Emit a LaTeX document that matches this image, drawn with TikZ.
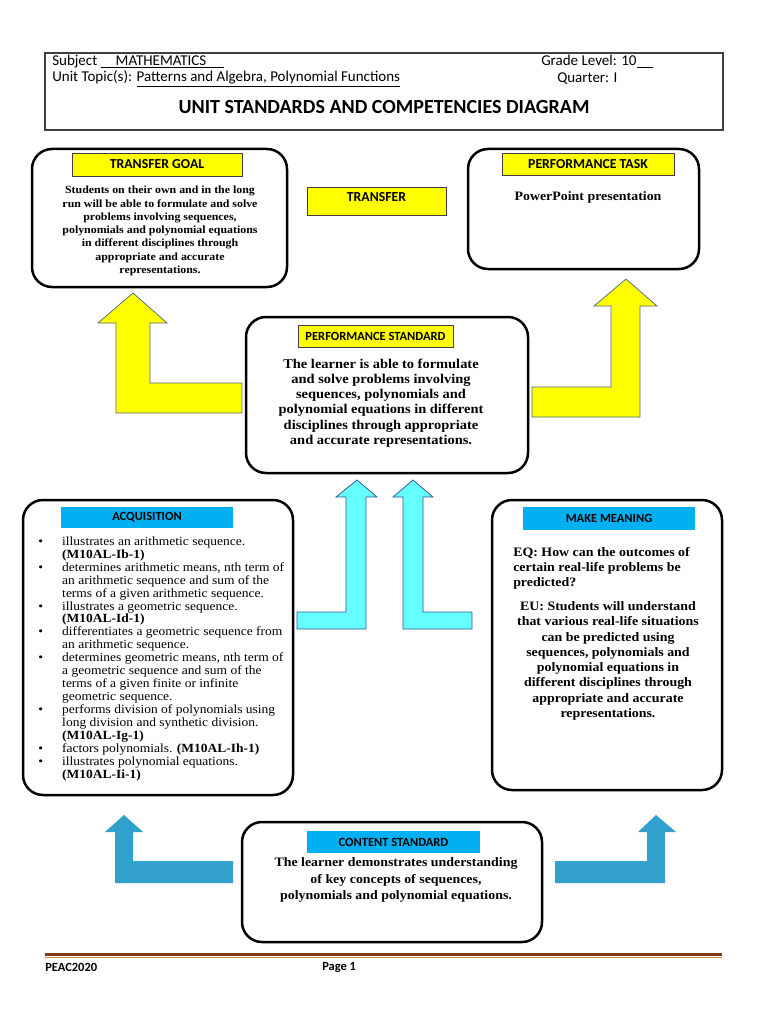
\documentclass[tikz,border=0pt]{standalone}
\usepackage{fontspec}
\setmainfont[FakeStretch=1.08]{Liberation Serif}
\newfontfamily\calibri{Carlito}
\definecolor{goalyellow}{RGB}{255,255,0}
\definecolor{goalline}{RGB}{85,105,135}
\definecolor{liftcyan}{RGB}{102,255,255}
\definecolor{liftline}{RGB}{47,85,151}
\definecolor{tagblue}{RGB}{0,176,240}
\definecolor{baseblue}{RGB}{49,160,204}
\definecolor{footbrown}{RGB}{120,58,24}
\definecolor{foottan}{RGB}{205,140,95}
\begin{document}
\begin{tikzpicture}[x=0.8pt, y=-0.8pt,
    panel/.style={draw, line width=2pt, rounded corners=16pt},
    tag/.style={draw=black!75, line width=0.6pt, fill=goalyellow, inner sep=0pt,
      font=\calibri\bfseries\fontsize{11}{13}\selectfont},
    smalltag/.style={tag, font=\calibri\bfseries\fontsize{10}{12}\selectfont},
    bluetag/.style={fill=tagblue, inner sep=0pt,
      font=\calibri\bfseries\fontsize{10}{12}\selectfont},
    body/.style={inner sep=0pt, align=center, font=\bfseries\fontsize{10.3}{12.2}\selectfont},
    head/.style={inner sep=0pt, anchor=west, font=\calibri\fontsize{12}{14}\selectfont},
    foot/.style={inner sep=0pt, anchor=west, font=\calibri\bfseries\fontsize{10}{12}\selectfont},
    yellowarrow/.style={fill=goalyellow, draw=goalline, line width=0.6pt, line join=miter},
    cyanarrow/.style={fill=liftcyan, draw=liftline, line width=0.6pt, line join=miter},
    basearrow/.style={fill=baseblue}]

    \useasboundingbox (0,0) rectangle (768,1024);

    % header
    \node[draw=black!75, line width=1pt, minimum width=542.4pt, minimum height=61.6pt] (header) at (384,91.5) {};
    \node[head] (subject) at (52,61.5) {Subject \underline{\hspace{12pt}MATHEMATICS\hspace{14pt}}};
    \node[head] (topic) at (52,78.5) {Unit Topic(s): \underline{Patterns and Algebra, Polynomial Functions}};
    \node[head] (grade) at (541,61.5) {Grade Level: 10\underline{\hspace{13pt}}};
    \node[head] (quarter) at (557,78.5) {Quarter: I};
    \node[inner sep=0pt, font=\calibri\bfseries\fontsize{16}{18}\selectfont] (title) at (384,107) {UNIT STANDARDS AND COMPETENCIES DIAGRAM};

    % transfer row
    \node[panel, minimum width=204pt, minimum height=110.4pt] (goal) at (159.5,218) {};
    \node[tag, minimum width=136pt, minimum height=18.4pt] (goaltag) at (157,164.5) {TRANSFER GOAL};
    \node[body, font=\bfseries\fontsize{8.8}{10.6}\selectfont] (goaltext) at (160,231) {Students on their own and in the long\\run will be able to formulate and solve\\problems involving sequences,\\polynomials and polynomial equations\\in different disciplines through\\appropriate and accurate\\representations.};

    \node[tag, minimum width=111.2pt, minimum height=22.4pt, text height=7pt, text depth=6.6pt] (transfer) at (376.5,201) {TRANSFER};

    \node[panel, minimum width=184.8pt, minimum height=96pt] (task) at (583.5,209) {};
    \node[tag, minimum width=137.6pt, minimum height=17.6pt] (tasktag) at (588,164) {PERFORMANCE TASK};
    \node[body] (tasktext) at (588,197) {PowerPoint presentation};

    % performance standard
    \node[panel, minimum width=225.6pt, minimum height=124.8pt] (pstd) at (387,395) {};
    \node[smalltag, minimum width=124pt, minimum height=17.6pt] (pstdtag) at (375.5,336) {PERFORMANCE STANDARD};
    \node[body, font=\bfseries\fontsize{10.7}{12.2}\selectfont] (pstdtext) at (381,403) {The learner is able to formulate\\and solve problems involving\\sequences, polynomials and\\polynomial equations in different\\disciplines through appropriate\\and accurate representations.};

    \draw[yellowarrow] (133,293) -- (167,323) -- (150,323) -- (150,383) -- (242,383) -- (242,413) -- (116,413) -- (116,323) -- (98,323) -- cycle;
    \draw[yellowarrow] (626,279) -- (657,306) -- (640,306) -- (640,417) -- (532,417) -- (532,387) -- (611,387) -- (611,306) -- (594,306) -- cycle;

    % acquisition and meaning
    \node[panel, minimum width=216pt, minimum height=236pt] (acq) at (158,647.5) {};
    \node[bluetag, minimum width=137.6pt, minimum height=16.8pt] (acqtag) at (147,517.5) {ACQUISITION};
    \node[inner sep=0pt, anchor=north west, font=\fontsize{10}{10.35}\selectfont] (acqlist) at (38,536) {%
      \begin{tabular}{@{}p{19.2pt}@{}l@{}}
      \textbullet & illustrates an arithmetic sequence.\\
      & \textbf{(M10AL-Ib-1)}\\
      \textbullet & determines arithmetic means, nth term of\\
      & an arithmetic sequence and sum of the\\
      & terms of a given arithmetic sequence.\\
      \textbullet & illustrates a geometric sequence.\\
      & \textbf{(M10AL-Id-1)}\\
      \textbullet & differentiates a geometric sequence from\\
      & an arithmetic sequence.\\
      \textbullet & determines geometric means, nth term of\\
      & a geometric sequence and sum of the\\
      & terms of a given finite or infinite\\
      & geometric sequence.\\
      \textbullet & performs division of polynomials using\\
      & long division and synthetic division.\\
      & \textbf{(M10AL-Ig-1)}\\
      \textbullet & factors polynomials. \textbf{(M10AL-Ih-1)}\\
      \textbullet & illustrates polynomial equations.\\
      & \textbf{(M10AL-Ii-1)}
      \end{tabular}};

    \node[panel, minimum width=184pt, minimum height=232pt] (mean) at (607,645) {};
    \node[bluetag, minimum width=137.6pt, minimum height=18.4pt] (meantag) at (609,518.5) {MAKE MEANING};
    \node[body, align=left, anchor=north west] (eq) at (513,547) {EQ: How can the outcomes of\\certain real-life problems be\\predicted?};
    \node[body] (eu) at (608,661) {EU: Students will understand\\that various real-life situations\\can be predicted using\\sequences, polynomials and\\polynomial equations in\\different disciplines through\\appropriate and accurate\\representations.};

    \draw[cyanarrow] (357,480) -- (377,497) -- (366,497) -- (366,629) -- (297,629) -- (297,612) -- (346,612) -- (346,497) -- (336,497) -- cycle;
    \draw[cyanarrow] (413,480) -- (433,497) -- (423,497) -- (423,612) -- (472,612) -- (472,629) -- (403,629) -- (403,497) -- (393,497) -- cycle;

    % content standard
    \node[panel, minimum width=240pt, minimum height=96pt] (cstd) at (392,882) {};
    \node[bluetag, minimum width=138.4pt, minimum height=17.6pt] (cstdtag) at (393.5,842) {CONTENT STANDARD};
    \node[body, font=\bfseries\fontsize{10.3}{13.2}\selectfont] (cstdtext) at (396,880) {The learner demonstrates understanding\\of key concepts of sequences,\\polynomials and polynomial equations.};

    \fill[basearrow] (124,815) -- (143,832) -- (133,832) -- (133,861) -- (233,861) -- (233,883) -- (115,883) -- (115,832) -- (105,832) -- cycle;
    \fill[basearrow] (656,815) -- (676,832) -- (665,832) -- (665,883) -- (555,883) -- (555,861) -- (647,861) -- (647,832) -- (638,832) -- cycle;

    % footer
    \draw[footbrown, line width=2.4pt] (45,954) -- (722,954);
    \draw[foottan, line width=0.8pt] (45,957.5) -- (722,957.5);
    \node[foot] (peac) at (45,967) {PEAC2020};
    \node[foot] (page) at (322,967) {Page 1};

  \end{tikzpicture}
\end{document}
